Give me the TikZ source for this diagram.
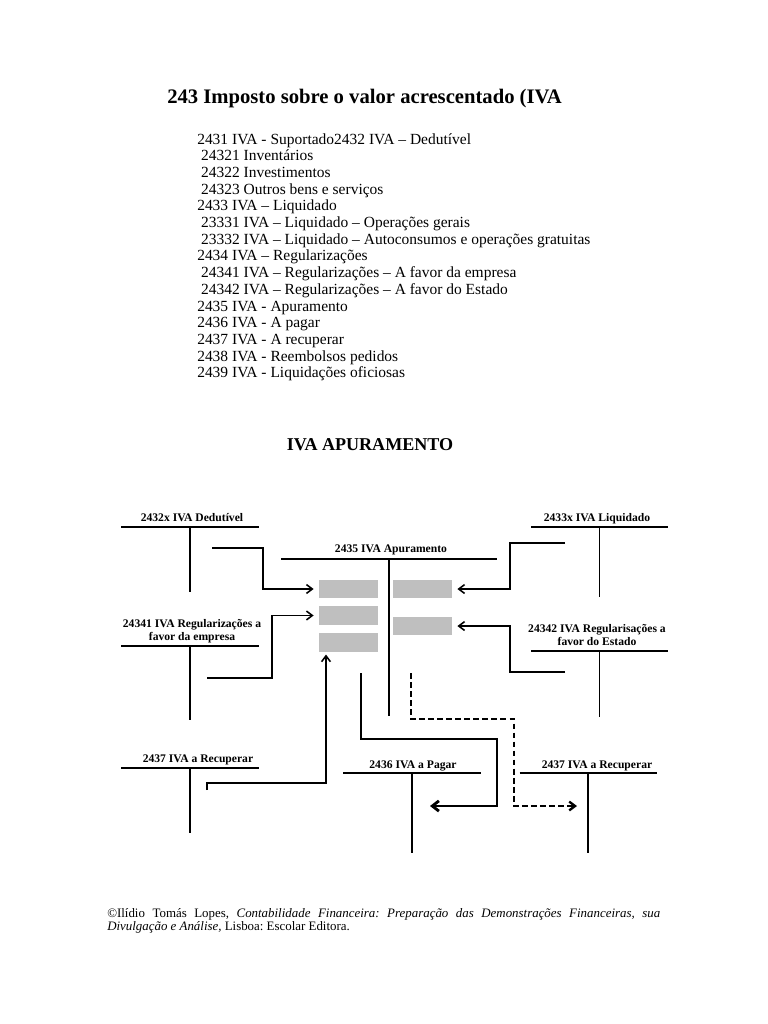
\documentclass[tikz,border=0pt]{standalone}
\usepackage{fontspec}
\setmainfont{Liberation Serif}
\usetikzlibrary{arrows.meta, positioning, calc}
\definecolor{slotgrey}{HTML}{BFBFBF}
\tikzstyle{account} = [font=\fontsize{9}{10}\selectfont\bfseries, align=center,
                       inner sep=0pt, anchor=base]
\tikzstyle{listitem} = [font=\fontsize{12}{13}\selectfont, inner sep=0pt, anchor=base west]
\tikzstyle{tbar} = [line width=1.2pt]
\tikzstyle{tstem} = [line width=0.9pt]
\tikzstyle{slot} = [rectangle, fill=slotgrey, minimum width=45.7pt, minimum height=14.3pt,
                    inner sep=0pt]
\tikzstyle{arrow} = [-{Straight Barb[length=1.6mm, width=2.4mm]}, line width=1.2pt]
\tikzstyle{bigarrow} = [-{Straight Barb[length=1.8mm, width=2.8mm]}, line width=2.2pt]

\begin{document}
\frenchspacing
\begin{tikzpicture}[x=0.775pt, y=-0.775pt]
    \useasboundingbox (0,0) rectangle (768,1024);

    % Title and list of accounts
    \node[anchor=base west, inner sep=0pt, font=\fontsize{16}{18}\selectfont\bfseries]
        (title) at (167,103) {243 Imposto sobre o valor acrescentado (IVA};
    \foreach \t [count=\i] in {2431 IVA - Suportado2432 IVA – Dedutível,
        \ 24321 Inventários, \ 24322 Investimentos, \ 24323 Outros bens e serviços,
        2433 IVA – Liquidado, \ 23331 IVA – Liquidado – Operações gerais,
        \ 23332 IVA – Liquidado – Autoconsumos e operações gratuitas,
        2434 IVA – Regularizações, \ 24341 IVA – Regularizações – A favor da empresa,
        \ 24342 IVA – Regularizações – A favor do Estado, 2435 IVA - Apuramento,
        2436 IVA - A pagar, 2437 IVA - A recuperar, 2438 IVA - Reembolsos pedidos,
        2439 IVA - Liquidações oficiosas}
        \node[listitem] (item\i) at (197,{144+16.71*(\i-1)}) {\t};

    \node[anchor=base, inner sep=0pt, font=\fontsize{14}{16}\selectfont\bfseries]
        (heading) at (370,450) {IVA APURAMENTO};

    % T accounts
    \foreach \n/\x/\y/\w/\h in {ded/190/527/69/65, liq/599.5/527/68.5/70,
        apur/389/559/108/157, rega/190/646/69/74, regb/599.5/651/68.5/66,
        recl/190/768/69/65, pag/412/773/69/80, recr/588/773/68.5/80} {
        \coordinate (\n) at (\x,\y);
        \draw[tbar] (\x-\w,\y) -- (\x+\w,\y);
        \draw[tstem] (\n) -- ++(0,\h);
    }
    \node[account] (ded-lbl) at (192,521) {2432x IVA Dedutível};
    \node[account] (liq-lbl) at (597,521) {2433x IVA Liquidado};
    \node[account] (apur-lbl) at (391,552) {2435 IVA Apuramento};
    \node[account] (rega-lbl) at (192,640) {24341 IVA Regularizações a\\favor da empresa};
    \node[account] (regb-lbl) at (597,645) {24342 IVA Regularisações a\\favor do Estado};
    \node[account] (recl-lbl) at (198,762) {2437 IVA a Recuperar};
    \node[account] (pag-lbl) at (413,768) {2436 IVA a Pagar};
    \node[account] (recr-lbl) at (597,768) {2437 IVA a Recuperar};

    % Slots in the apuramento account
    \node[slot] (lb1) at (348.5,589) {};
    \node[slot] (lb2) at (348.5,615.5) {};
    \node[slot] (lb3) at (348.5,642.5) {};
    \node[slot] (rb1) at (422.5,589) {};
    \node[slot] (rb2) at (422.5,626) {};

    % Arrows into the apuramento
    \coordinate (ded-out) at (212,548);
    \coordinate (ded-bend) at (263,548);
    \draw[arrow, shorten >=4pt] (ded-out) -- (ded-bend) |- (lb1);
    \coordinate (rega-out) at (207,678);
    \coordinate (rega-bend) at (272,678);
    \draw[arrow, shorten >=4pt] (rega-out) -- (rega-bend) |- (lb2);
    \coordinate (recl-out) at (207,790);
    \coordinate (recl-bend) at (326,783);
    \draw[arrow, shorten >=2pt] (recl-out) |- (recl-bend) -- (recl-bend |- lb3.south);
    \coordinate (liq-out) at (565,543);
    \coordinate (liq-bend) at (510,543);
    \draw[arrow, shorten >=4pt] (liq-out) -- (liq-bend) |- (rb1);
    \coordinate (regb-out) at (565,672);
    \coordinate (regb-bend) at (510,672);
    \draw[arrow, shorten >=4pt] (regb-out) -- (regb-bend) |- (rb2);

    % Balance out of the apuramento
    \coordinate (apur-deb) at (361,673);
    \coordinate (pag-in) at (430,806);
    \draw[bigarrow] (apur-deb) -- (361,739) -- (497,739) -- (497,806) -- (pag-in);
    \coordinate (apur-cred) at (411,673);
    \coordinate (recr-in) at (577,806);
    \draw[arrow, line width=1.8pt, dash pattern=on 4.5pt off 2.5pt]
        (apur-cred) -- (411,719) -- (514,719) -- (514,806) -- (recr-in);

    % Credit
    \node[anchor=base west, inner sep=0pt, font=\fontsize{10}{11}\selectfont] (cite1) at (107,917)
        {\makebox[428.6pt][s]{©Ilídio Tomás Lopes, \textit{Contabilidade Financeira: Preparação das Demonstrações Financeiras, sua}}};
    \node[anchor=base west, inner sep=0pt, font=\fontsize{10}{11}\selectfont] (cite2) at (107,930)
        {\textit{Divulgação e Análise,} Lisboa: Escolar Editora.};
\end{tikzpicture}
\end{document}
